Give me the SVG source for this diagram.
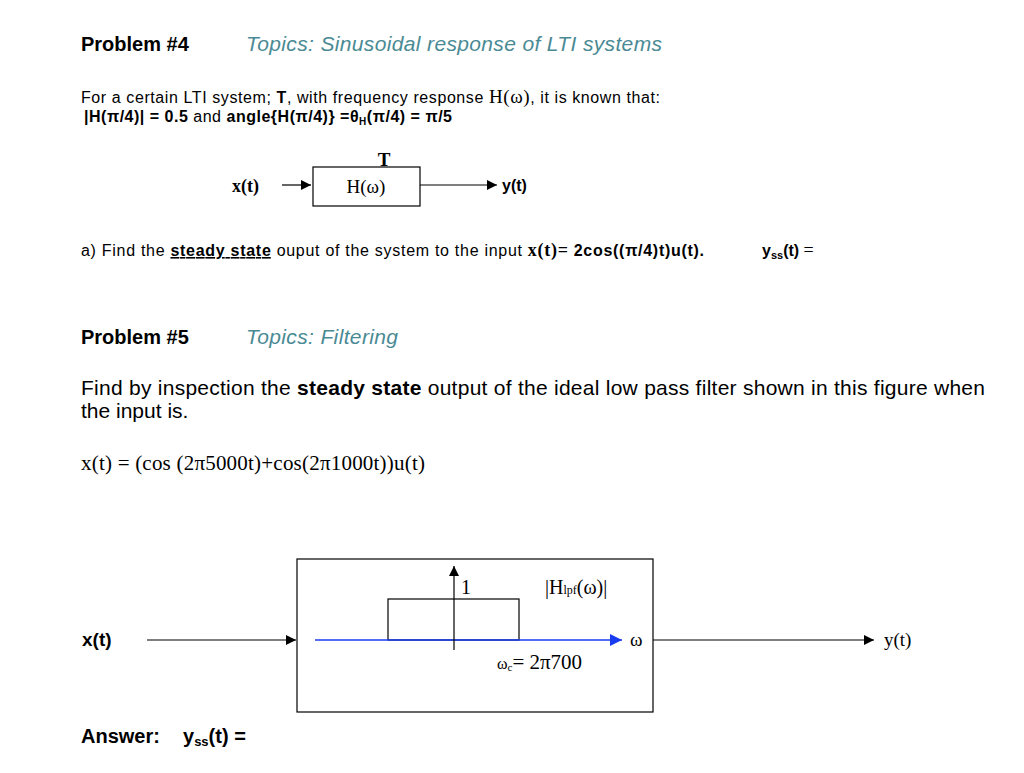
<svg xmlns="http://www.w3.org/2000/svg" width="1024" height="773" viewBox="0 0 1024 773">
<style>
.s{font-family:"Liberation Sans",Arial,sans-serif;fill:#000}
.t{font-family:"Liberation Serif","Times New Roman",serif;fill:#000}
.b{font-weight:bold}
.top{font-family:"Liberation Sans",Arial,sans-serif;font-style:italic;fill:#4a8a94;font-size:21px}
.ln{stroke:#000;stroke-width:1.2;fill:none}
</style>
<defs>
<marker id="a" viewBox="0 0 10 10" refX="10" refY="5" markerWidth="10" markerHeight="10" markerUnits="userSpaceOnUse" orient="auto"><path d="M0,0L10,5L0,10z" fill="#000"/></marker>
<marker id="ab" viewBox="0 0 10 10" refX="10" refY="5" markerWidth="12" markerHeight="12" markerUnits="userSpaceOnUse" orient="auto"><path d="M0,0L10,5L0,10z" fill="#1a3cf0"/></marker>
</defs>
<rect width="1024" height="773" fill="#fff"/>
<text x="81" y="51" class="s b" font-size="20">Problem #4</text>
<text x="246" y="51" class="top" textLength="416">Topics: Sinusoidal response of LTI systems</text>
<text x="81" y="103" class="s" font-size="16" textLength="579">For a certain LTI system; <tspan class="b">T</tspan>, with frequency response <tspan class="t" font-size="19">H(ω)</tspan>, it is known that:</text>
<text x="84" y="122" class="s" font-size="16" textLength="368"><tspan class="b">|H(π/4)| = 0.5</tspan>  and <tspan class="b">angle{H(π/4)} =θ<tspan font-size="10" dy="3">H</tspan><tspan dy="-3">(π/4) =  π/5</tspan></tspan></text>
<g id="sys">
<rect x="313" y="167" width="107" height="39" class="ln"/>
<text x="366" y="193" class="t" text-anchor="middle" font-size="19">H(ω)</text>
<text x="384" y="166" class="t b" text-anchor="middle" font-size="19">T</text>
</g>
<text x="232" y="192" class="t b" font-size="18">x(t)</text>
<text x="502" y="191" class="s b" font-size="16">y(t)</text>
<g id="conn1">
<line x1="282" y1="185" x2="311" y2="185" class="ln" marker-end="url(#a)"/>
<line x1="420" y1="185" x2="497" y2="185" class="ln" marker-end="url(#a)"/>
</g>
<text x="81" y="256" class="s" font-size="16" textLength="623">a) Find the <tspan class="b" text-decoration="underline">steady state</tspan> ouput of the system to the input  <tspan class="t b" font-size="18">x(t)=</tspan><tspan class="b"> 2cos((π/4)t)u(t).</tspan></text>
<text x="762" y="256" class="s b" font-size="16">y<tspan font-size="11" dy="3">ss</tspan><tspan dy="-3">(t) </tspan><tspan class="t" font-weight="normal" font-size="18">=</tspan></text>
<text x="81" y="344" class="s b" font-size="20">Problem #5</text>
<text x="246" y="344" class="top" textLength="152">Topics: Filtering</text>
<text x="81" y="395" class="s" font-size="21" textLength="904">Find by inspection the <tspan class="b">steady state</tspan> output of the ideal low pass filter shown in this figure when</text>
<text x="81" y="418" class="s" font-size="21">the input is.</text>
<text x="81" y="470" class="t" font-size="21" textLength="344">x(t) = (cos (2π5000t)+cos(2π1000t))u(t)</text>
<g id="filter">
<rect x="297" y="559" width="356" height="153" class="ln"/>
<rect x="388" y="599" width="131" height="41" class="ln"/>
<line x1="315" y1="640" x2="622" y2="640" stroke="#1a3cf0" stroke-width="1.3" marker-end="url(#ab)"/>
<line x1="454" y1="650" x2="454" y2="566" class="ln" marker-end="url(#a)"/>
<text x="461" y="594" class="t" font-size="20">1</text>
<text x="545" y="594" class="t" font-size="20">|H<tspan font-size="12">lpf</tspan>(ω)|</text>
<text x="630" y="646" class="t" font-size="19">ω</text>
<text x="497" y="669" class="t" font-size="21"><tspan font-size="16">ω<tspan font-size="11" dy="2">c</tspan></tspan><tspan dy="-2">= 2π700</tspan></text>
</g>
<text x="82" y="646" class="s b" font-size="19">x(t)</text>
<text x="884" y="646" class="t" font-size="19">y(t)</text>
<g id="conn2">
<line x1="147" y1="640" x2="296" y2="640" class="ln" marker-end="url(#a)"/>
<line x1="653" y1="640" x2="874" y2="640" class="ln" marker-end="url(#a)"/>
</g>
<text x="81" y="743" class="s b" font-size="20">Answer: <tspan x="183">y</tspan><tspan font-size="13" dy="3">ss</tspan><tspan dy="-3">(t) =</tspan></text>
</svg>
